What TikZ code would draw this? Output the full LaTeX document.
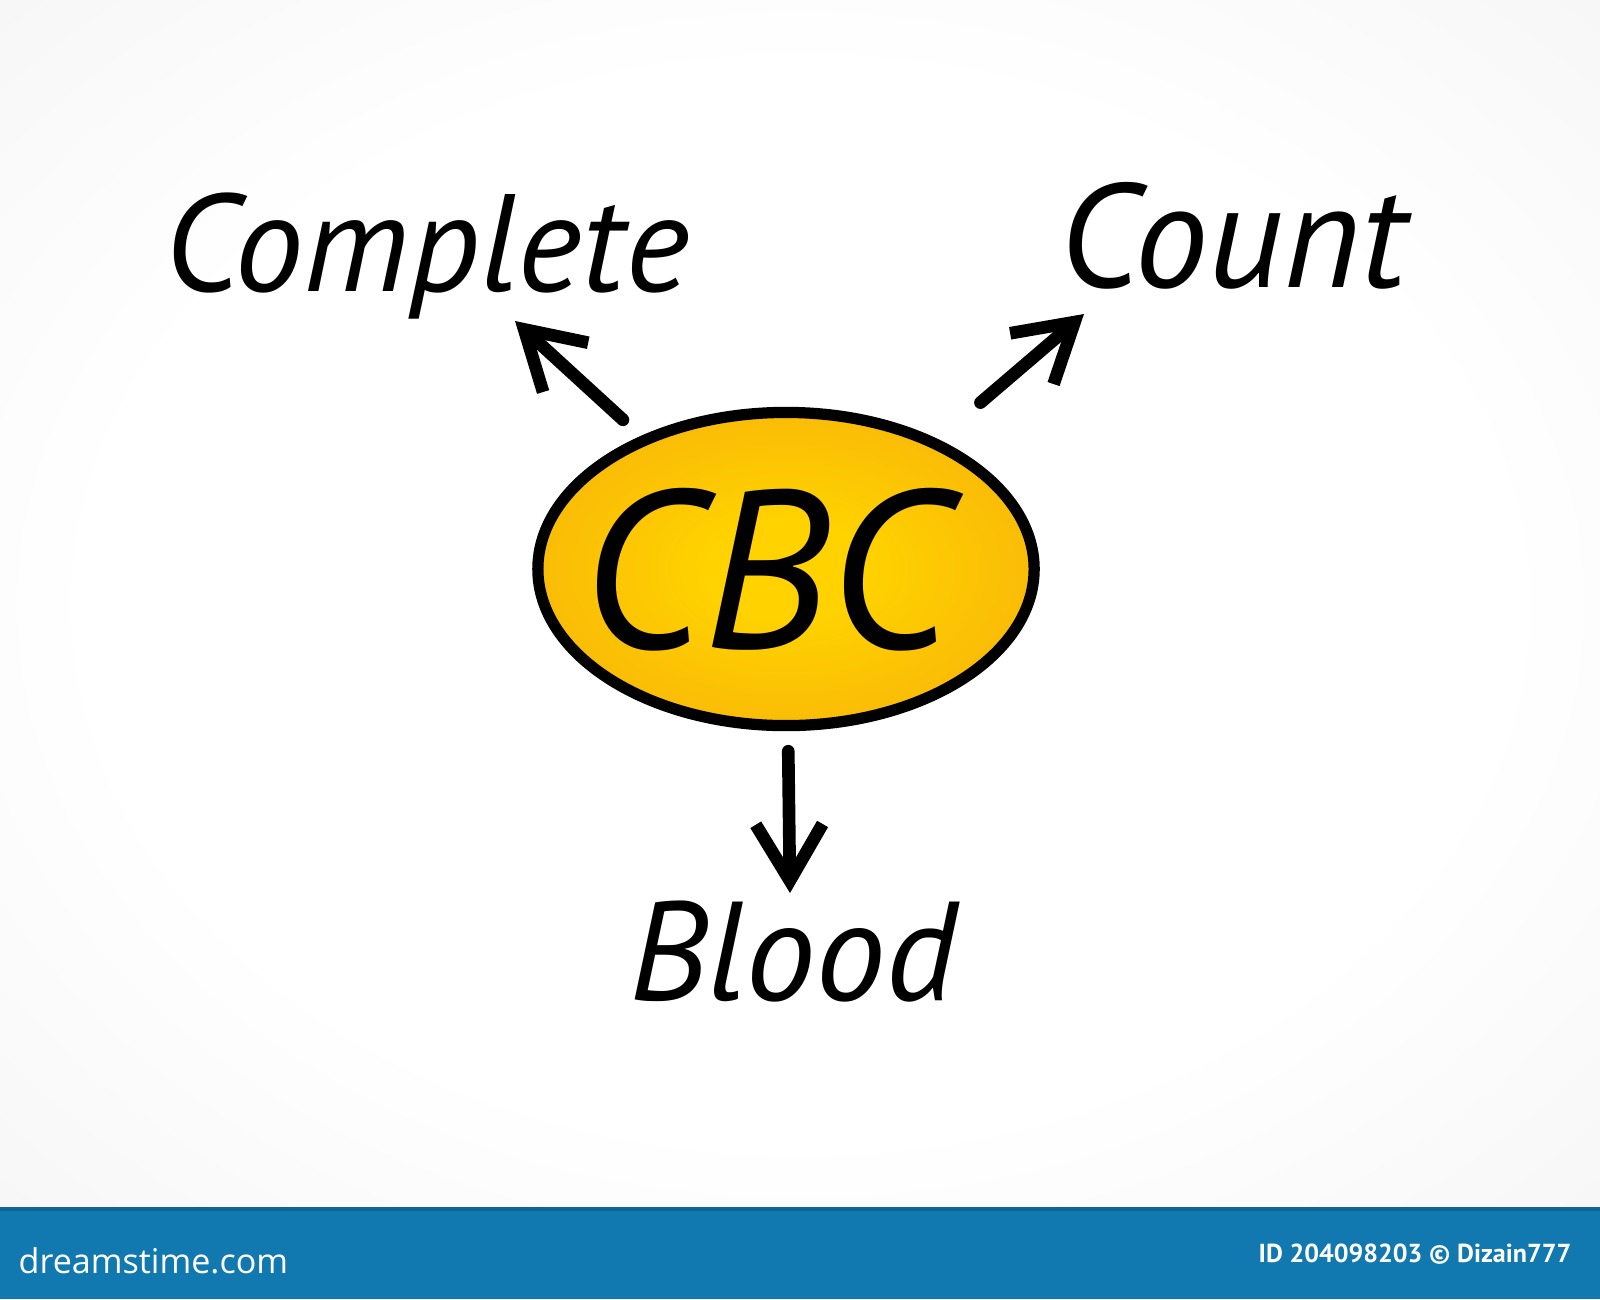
\documentclass[tikz,border=0pt]{standalone}
\usepackage{fontspec}
\setmainfont{PT Sans}
\newfontfamily\barfont{Open Sans}
\usetikzlibrary{arrows.meta,shapes.geometric}

\definecolor{cbcyellow}{RGB}{255,210,0}
\definecolor{cbcorange}{RGB}{242,156,16}
\definecolor{bggray}{RGB}{226,226,228}
\definecolor{barblue}{RGB}{17,120,176}
\pgfdeclareradialshading{cbcglow}{\pgfpoint{0bp}{0bp}}{color(0bp)=(cbcyellow); color(8bp)=(cbcyellow); color(50bp)=(cbcorange)}
\pgfdeclareradialshading{bgglow}{\pgfpoint{0bp}{0bp}}{color(0bp)=(white); color(22bp)=(white); color(70bp)=(bggray)}

\begin{document}
\begin{tikzpicture}[x=0.01cm,y=-0.01cm,
  hand/.style={font=\fontsize{40}{40}\selectfont\itshape, inner sep=0pt, anchor=base},
  arrow/.style={line width=3.6pt, line cap=round, line join=round,
    -{Straight Barb[length=16pt,width=19pt,line width=3.6pt]}},
  bartext/.style={text=white, inner sep=0pt}]
\useasboundingbox (0,0) rectangle (1600,1299);
\shade[shading=bgglow] (0,0) rectangle (1600,1209);

\node[ellipse, draw, line width=3.2pt, shading=cbcglow, minimum width=4.96cm,
  minimum height=3.13cm, inner sep=0pt] (cbc) at (786,569) {};
\node[hand, font=\fontsize{64}{64}\selectfont\itshape] (cbclabel) at (766,648) {CBC};

\node[hand, font=\fontsize{39.4}{40}\selectfont\itshape] (complete) at (427,291) {Complete};
\node[hand, font=\fontsize{42}{42}\selectfont\itshape] (count) at (1233,287) {Count};
\node[hand] (blood) at (793,1000) {Blood};

% arrow tips
\coordinate (toComplete) at (515,321);
\coordinate (toCount) at (1084,314);
\coordinate (toBlood) at (790,893);

\draw[arrow, shorten <=0.24cm] (cbc) -- (toComplete);
\draw[arrow, shorten <=0.56cm] (cbc) -- (toCount);
\draw[arrow, shorten <=0.2cm] (cbc) -- (toBlood);

% footer
\fill[barblue] (0,1209) rectangle (1600,1299);
\draw[barblue!85!black, line width=1pt] (0,1209) -- (1600,1209);
\node[bartext, font=\barfont\fontsize{9.7}{10}\selectfont, anchor=west] (site) at (18,1261) {dreamstime.com};
\node[bartext, font=\bfseries\fontsize{7.4}{8}\selectfont, anchor=east] (credit) at (1572,1254) {ID 204098203 © Dizain777};
\end{tikzpicture}
\end{document}
